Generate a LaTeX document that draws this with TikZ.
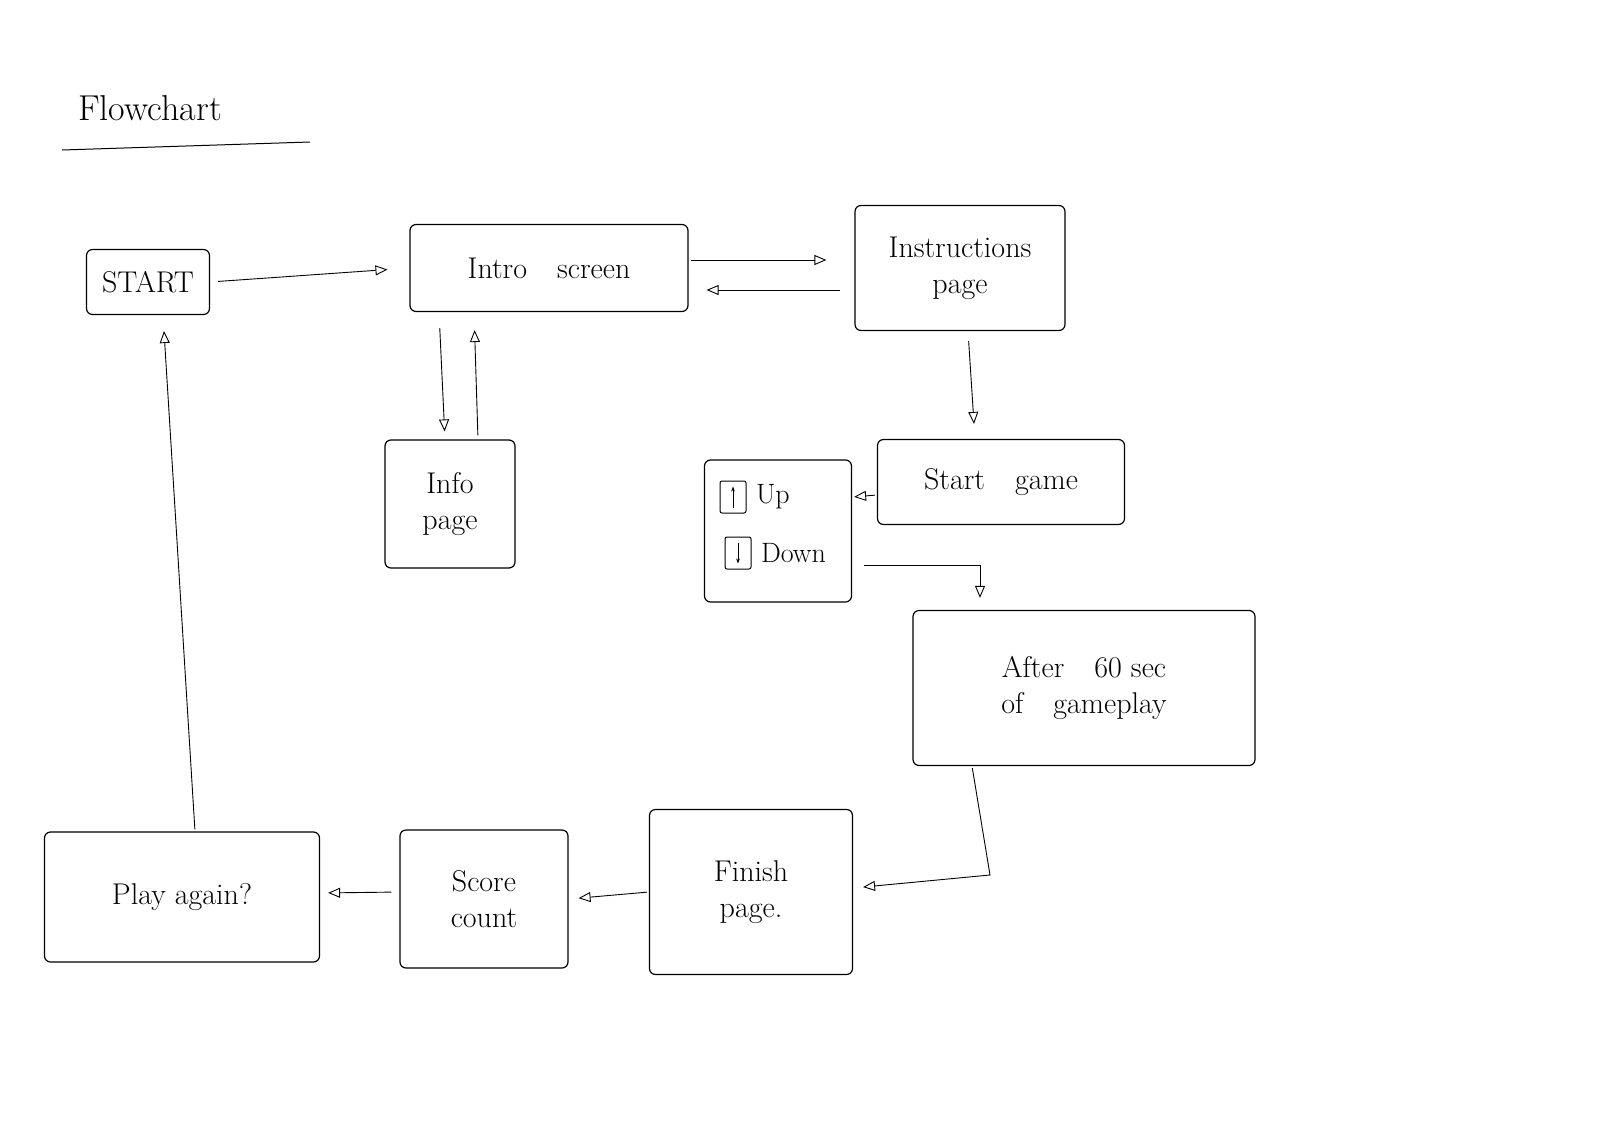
\documentclass[tikz,border=0pt]{standalone}
\usetikzlibrary{arrows.meta}
\begin{document}
\begin{tikzpicture}[x=1pt,y=-1pt,
  box/.style={draw,line width=1.2pt,rounded corners=6pt,align=center,inner sep=0pt,font=\fontsize{30}{36}\selectfont},
  arr/.style={draw,line width=0.9pt,-{Triangle[open,length=12pt,width=10pt]}},
  key/.style={draw,line width=1pt,minimum width=26pt,minimum height=32pt,inner sep=0pt,rounded corners=2pt}]
\useasboundingbox (0,0) rectangle (1600,1132);
\node[font=\fontsize{36}{42}\selectfont] (title) at (150,108) {Flowchart};
\draw[line width=1pt] (62,150) -- (310,142);
\node[box,minimum width=123pt,minimum height=65pt] (start) at (148,282) {START};
\node[box,minimum width=278pt,minimum height=87pt] (intro) at (549,268) {Intro\quad screen};
\node[box,minimum width=210pt,minimum height=125pt] (instr) at (960,268) {Instructions\\page};
\node[box,minimum width=130pt,minimum height=128pt] (info) at (450,504) {Info\\page};
\node[box,minimum width=247pt,minimum height=85pt] (sgame) at (1001,482) {Start\quad game};
\node[box,minimum width=147pt,minimum height=142pt] (updown) at (778,531) {};
\node[key] (ku) at (733,497) {};
\node[key] (kd) at (738,553) {};
\draw[line width=0.8pt,-{Stealth[length=5pt]}] ([yshift=6pt]ku.south) -- ([yshift=-6pt]ku.north);
\draw[line width=0.8pt,-{Stealth[length=5pt]}] ([yshift=-6pt]kd.north) -- ([yshift=6pt]kd.south);
\node[anchor=west,font=\fontsize{28}{34}\selectfont] (up) at ([xshift=6pt]ku.east) {Up};
\node[anchor=west,font=\fontsize{28}{34}\selectfont] (down) at ([xshift=6pt]kd.east) {Down};
\node[box,minimum width=342pt,minimum height=155pt] (after) at (1084,688) {After\quad 60 sec\\of\quad gameplay};
\node[box,minimum width=203pt,minimum height=165pt] (finish) at (751,892) {Finish\\page.};
\node[box,minimum width=168pt,minimum height=138pt] (score) at (484,899) {Score\\count};
\node[box,minimum width=275pt,minimum height=130pt] (play) at (182,897) {Play again?};
\draw[arr,shorten <=8pt,shorten >=22pt] (start.east) -- (intro.west);
\draw[arr,shorten <=2pt,shorten >=28pt] ([yshift=8pt]intro.east) -- ([yshift=8pt]instr.west);
\draw[arr,shorten <=14pt,shorten >=18pt] ([yshift=-22pt]instr.west) -- ([yshift=-22pt]intro.east);
\draw[arr,shorten <=16pt,shorten >=8pt] ([xshift=-110pt]intro.south) -- ([xshift=-5pt]info.north);
\draw[arr,shorten <=4pt,shorten >=18pt] ([xshift=28pt]info.north) -- ([xshift=-75pt]intro.south);
\draw[arr,shorten <=10pt,shorten >=15pt] ([xshift=8pt]instr.south) -- ([xshift=-26pt]sgame.north);
\draw[arr,shorten <=2pt,shorten >=2pt] ([yshift=-13pt]sgame.west) -- ([yshift=34pt]updown.east);
\draw[arr,shorten <=12pt,shorten >=12pt] ([yshift=-34pt]updown.east) -| ([xshift=-104pt]after.north);
\draw[arr,shorten <=2pt,shorten >=10pt] ([xshift=-112pt]after.south) -- (990,875) -- ([yshift=4pt]finish.east);
\draw[arr,shorten <=2pt,shorten >=10pt] (finish.west) -- (score.east);
\draw[arr,shorten <=8pt,shorten >=8pt] ([yshift=7pt]score.west) -- ([yshift=4pt]play.east);
\draw[arr,shorten <=2pt,shorten >=16pt] ([xshift=13pt]play.north) -- ([xshift=15pt]start.south);
\end{tikzpicture}
\end{document}
